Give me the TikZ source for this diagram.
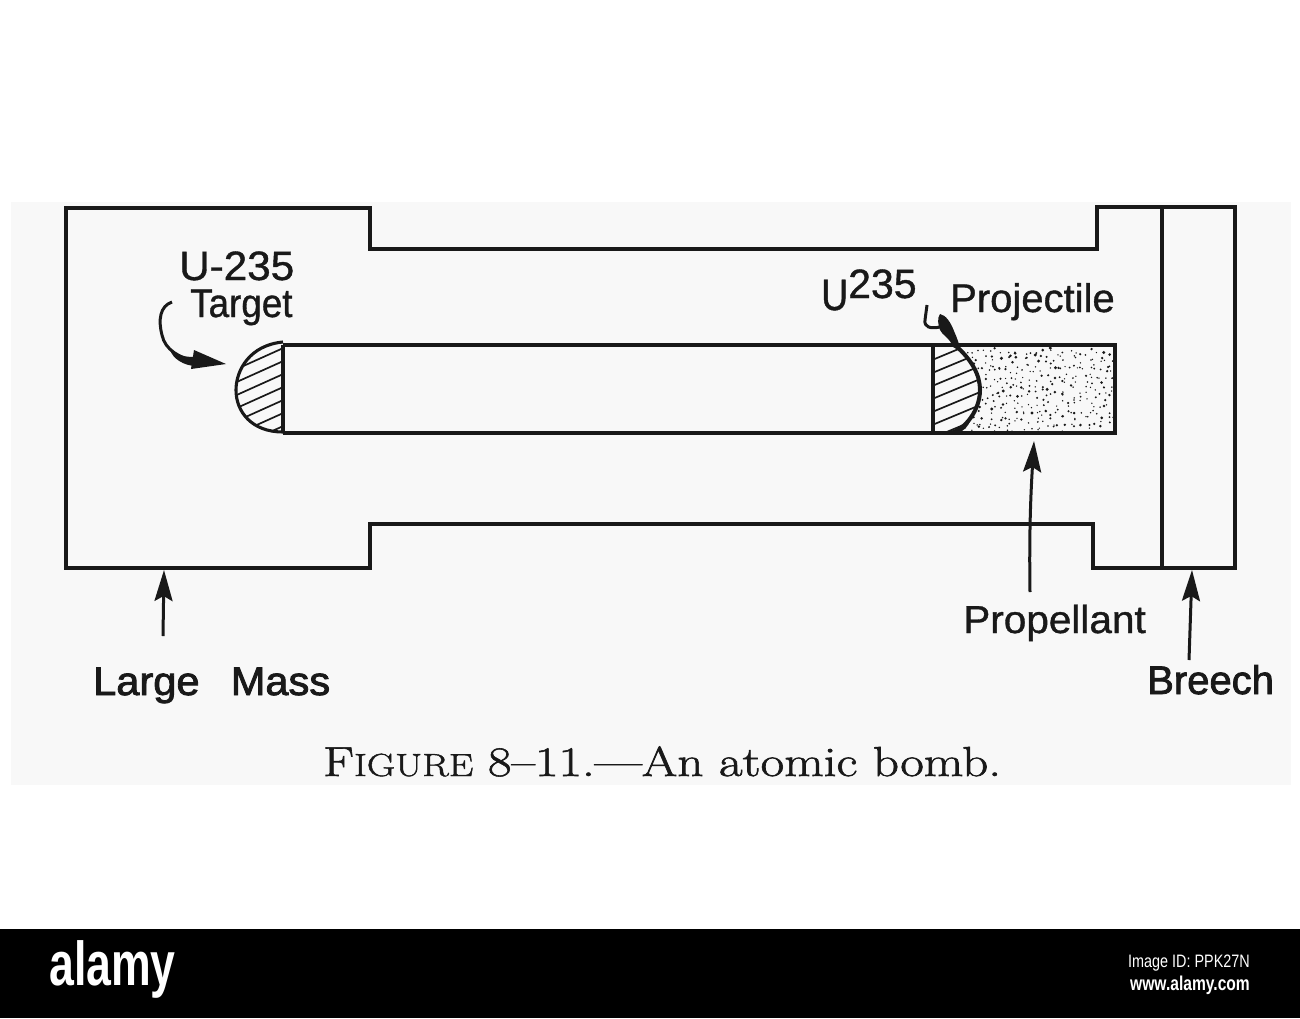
\documentclass[tikz,border=0pt]{standalone}
\usepackage{fontspec}
\usetikzlibrary{arrows.meta}
\newfontfamily\hand[FakeBold=0.9]{Liberation Sans}
\newfontfamily\handb[FakeBold=2.0]{Liberation Sans}
\newfontfamily\footfont{Liberation Sans}
\newfontfamily\capfont[FakeBold=1.3]{Latin Modern Roman}
\definecolor{ink}{gray}{0.10}
\definecolor{paper}{gray}{0.972}
\newcommand{\lett}[3]{\scalebox{#2}[1]{\fontsize{#1}{#1}\selectfont\hand #3}}
\newcommand{\lettb}[3]{\scalebox{#2}[1]{\fontsize{#1}{#1}\selectfont\handb #3}}
\newcommand{\capt}[2]{{\fontsize{#1}{#1}\selectfont\capfont #2}}
\tikzset{
  wall/.style={draw=ink,line width=3.1pt,line join=miter},
  hatchline/.style={draw=ink,line width=1.7pt},
  label text/.style={text=ink,inner sep=0pt,anchor=base west},
  pointer/.style={draw=ink,line width=3pt,-{Stealth[length=31pt,width=18pt,inset=5pt]}},
  curve pointer/.style={draw=ink,line width=3pt},
}
\begin{document}
\begin{tikzpicture}[x=1pt,y=-1pt]
\useasboundingbox (0,0) rectangle (1300,1018);
\fill[white] (0,0) rectangle (1300,1018);
\fill[paper] (11,202) rectangle (1291,785);
\fill[black] (0,929) rectangle (1300,1018);
% body
\draw[wall] (66,208) -- (370,208) -- (370,249) -- (1097,249) -- (1097,207) -- (1235,207)
  -- (1235,568) -- (1093,568) -- (1093,524) -- (370,524) -- (370,568) -- (66,568) -- cycle;
\draw[wall] (1162,207) -- (1162,568);
% propellant stipple
\begin{scope}
\clip (955,345) .. controls (972,360) and (980,375) .. (980,390) .. controls (980,410) and (965,430) .. (950,433) -- (1115,433) -- (1115,345) -- cycle;
\pgfmathsetseed{235}
\foreach \i in {0,...,27}{
  \foreach \j in {0,...,12}{
    \pgfmathsetmacro{\dx}{950+\i*5.9+6.5*rnd}
    \pgfmathsetmacro{\dy}{348+\j*6.5+7*rnd}
    \pgfmathsetmacro{\dr}{0.7+1.1*rnd*rnd}
    \fill[ink] (\dx,\dy) circle[radius=\dr pt];
  }
}
\end{scope}
% target hatching
\begin{scope}
\clip (283,342) .. controls (250,345) and (236,370) .. (236,390) .. controls (236,412) and (252,432) .. (283,432) -- cycle;
\foreach \k in {0,...,11}{
  \draw[hatchline] (230,{372+13*\k}) -- (290,{345+13*\k});
}
\end{scope}
% projectile hatching
\begin{scope}
\clip (933,345) -- (955,345) .. controls (972,360) and (980,375) .. (980,390) .. controls (980,410) and (965,430) .. (950,433) -- (933,433) -- cycle;
\foreach \k in {0,...,11}{
  \draw[hatchline] (925,{363+13*\k}) -- (985,{338+13*\k});
}
\end{scope}
% tube
\draw[wall] (283,345) -- (1115,345) -- (1115,433) -- (283,433);
\draw[wall] (283,345) -- (283,433);
\draw[wall] (933,345) -- (933,433);
\draw[wall] (283,342) .. controls (250,345) and (236,370) .. (236,390) .. controls (236,412) and (252,432) .. (283,432);
\draw[wall,line width=4pt] (955,345) .. controls (972,360) and (980,375) .. (980,390) .. controls (980,410) and (965,430) .. (950,433);
\fill[ink] (946,433) .. controls (958,431) and (965,426) .. (971,418) .. controls (969,428) and (960,433) .. (955,434) -- cycle;
% labels
\node[label text] (u235t) at (179,280) {\lett{41}{1.03}{U-235}};
\node[label text] (target) at (190,317) {\lett{40}{0.92}{Target}};
\node[label text] (uproj) at (821,310) {\lett{44}{0.85}{U}};
\node[label text] (sup235) at (848,298) {\lett{41}{1.0}{235}};
\node[label text] (proj) at (950,312) {\lett{40}{1.0}{Projectile}};
\node[label text] (mass) at (93,695) {\lettb{40}{1.04}{Large\hspace{30pt}Mass}};
\node[label text] (prop) at (963,633) {\lett{39}{1.04}{Propellant}};
\node[label text] (breech) at (1147,694) {\lettb{40}{1.0}{Breech}};
\node[inner sep=0pt,anchor=base west,text=ink] (cap) at (323,776)
  {\scalebox{1.22}[1]{\capt{42}{F}\capt{32}{IGURE}\hspace{12pt}\capt{42}{8–11.—An atomic bomb.}}};
% arrows
\coordinate (massTail) at (163,636);
\coordinate (massHead) at (164,570);
\coordinate (propTail) at (1030,592);
\coordinate (propHead) at (1034,441);
\coordinate (brTail) at (1189,660);
\coordinate (brHead) at (1192,570);
\draw[pointer] (massTail) -- (massHead);
\draw[pointer] (propTail) .. controls (1029,530) and (1031,490) .. (propHead);
\draw[pointer] (brTail) -- (brHead);
% curved pointers
\coordinate (tgtTail) at (172,302);
\coordinate (tgtHead) at (226,364);
\draw[curve pointer] (tgtTail) .. controls (160,306) and (158,320) .. (162,335) .. controls (165,350) and (180,358) .. (195,361);
\fill[ink] (170,349) .. controls (178,356) and (185,357) .. (196,357) -- (196,366) .. controls (185,366) and (172,359) .. cycle;
\fill[ink] (tgtHead) -- (194,350) -- (191,369) -- cycle;
\coordinate (prjTail) at (927,305);
\draw[curve pointer] (prjTail) -- (925,320) .. controls (924,327) and (930,329) .. (940,327);
\fill[ink] (940,314) .. controls (946,315) and (951,323) .. (954,331) .. controls (957,338) and (960,345) .. (960,351) -- (953,347) .. controls (950,338) and (942,335) .. (940,330) .. controls (938,325) and (937,318) .. (940,314) -- cycle;
% footer
\node[inner sep=0pt,anchor=base west,text=white] (logo) at (49,985) {\scalebox{0.72}[1]{\fontsize{62}{62}\selectfont\footfont\bfseries alamy}};
\node[inner sep=0pt,anchor=base east,text=white] (imgid) at (1250,967) {\scalebox{0.8}[1]{\fontsize{18}{18}\selectfont\footfont Image ID: PPK27N}};
\node[inner sep=0pt,anchor=base east,text=white] (url) at (1250,990) {\scalebox{0.78}[1]{\fontsize{20}{20}\selectfont\footfont\bfseries www.alamy.com}};
\end{tikzpicture}
\end{document}
